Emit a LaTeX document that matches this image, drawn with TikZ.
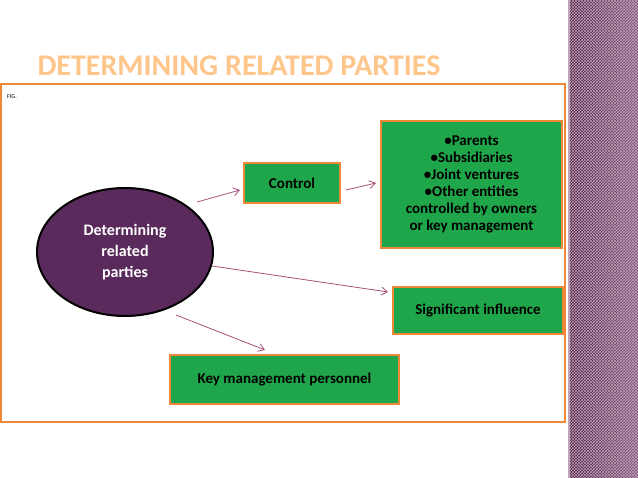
\documentclass[tikz,border=0pt]{standalone}
\usepackage{fontspec}
\setmainfont{Carlito}
\usetikzlibrary{arrows.meta,patterns,shapes.geometric}
\definecolor{gbox}{HTML}{1FA64A}
\definecolor{obord}{HTML}{F0883A}
\definecolor{purp}{HTML}{5A2A5C}
\definecolor{arr}{HTML}{A8507A}
\definecolor{strip}{HTML}{5E1F50}
\begin{document}
\begin{tikzpicture}[x=1pt,y=-1pt,
  gb/.style={draw=obord,line width=2pt,fill=gbox,font=\bfseries\fontsize{15}{17}\selectfont,align=center,inner sep=0pt},
  conn/.style={draw=arr,line width=0.8pt,-{Straight Barb[length=6pt,width=8pt]}}]
\useasboundingbox (0,0) rectangle (638,478);
\fill[white] (0,0) rectangle (638,478);
\shade[left color=strip!80!black,right color=strip!75!white] (568,0) rectangle (638,478);
\fill[pattern=crosshatch,pattern color=white!60!strip] (570,0) rectangle (638,478);
\draw[strip!40!white,line width=1.5pt] (569,0) -- (569,478);
\node[font=\bfseries\fontsize{30}{32}\selectfont,text=orange!45!white,anchor=west] (title) at (34,66) {DETERMINING RELATED PARTIES};
\draw[obord,line width=2.5pt] (1,84) rectangle (565,422);
\node[font=\fontsize{6}{7}\selectfont,anchor=west,inner sep=0pt] (fig) at (7,97) {FIG.};
\node[ellipse,draw=black,line width=2pt,fill=purp,minimum width=176pt,minimum height=128pt,text=white,font=\bfseries\fontsize{16}{21}\selectfont,align=center] (det) at (125,252) {Determining\\related\\parties};
\node[gb,minimum width=96pt,minimum height=40pt] (ctrl) at (292,183) {Control};
\node[gb,minimum width=181pt,minimum height=127pt] (par) at (471.5,184.5) {•Parents\\•Subsidiaries\\•Joint ventures\\•Other entities\\controlled by owners\\or key management};
\node[gb,minimum width=170pt,minimum height=47pt] (sig) at (478,310.5) {Significant influence};
\node[gb,minimum width=229pt,minimum height=49pt] (key) at (284.5,379.5) {Key management personnel};
\coordinate (a1) at (197,202); \coordinate (a2) at (240,190);
\coordinate (b1) at (346,190); \coordinate (b2) at (376,183);
\coordinate (c1) at (212,266); \coordinate (c2) at (388,292);
\coordinate (d1) at (176,315); \coordinate (d2) at (265,350);
\draw[conn] (a1) -- (a2);
\draw[conn] (b1) -- (b2);
\draw[conn] (c1) -- (c2);
\draw[conn] (d1) -- (d2);
\end{tikzpicture}
\end{document}
